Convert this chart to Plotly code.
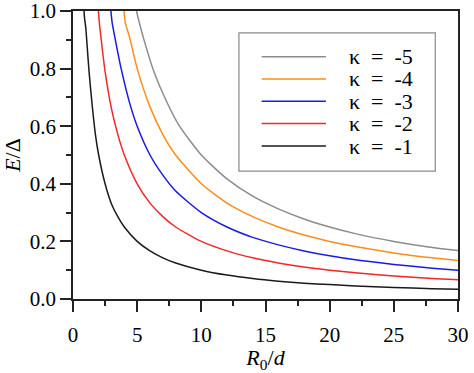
import plotly.graph_objects as go

# Values
kappa_labels = ["κ\u2002=\u2002-5", "κ\u2002=\u2002-4", "κ\u2002=\u2002-3", "κ\u2002=\u2002-2", "κ\u2002=\u2002-1"]
colors = ["#8c8c8c", "#ff8c1a", "#1a1ae6", "#f02828", "#1a1a1a"]

x_k5 = [4.95, 5.08, 5.5, 6.3, 7.3, 8.3, 10, 12, 14, 16, 18, 20, 22, 25, 28, 30]
y_k5 = [1.0, 0.975, 0.905, 0.79, 0.685, 0.60, 0.50, 0.417, 0.357, 0.313, 0.278, 0.25, 0.227, 0.20, 0.179, 0.168]

x_k4 = [3.98, 4.07, 4.4, 5, 6, 7, 8, 10, 12, 14, 16, 18, 20, 22, 25, 28, 30]
y_k4 = [1.0, 0.96, 0.91, 0.80, 0.667, 0.571, 0.50, 0.40, 0.333, 0.286, 0.25, 0.222, 0.20, 0.182, 0.16, 0.143, 0.134]

x_k3 = [2.95, 3.05, 3.3, 3.75, 4.5, 5, 6, 7, 8, 10, 12, 14, 16, 18, 20, 22, 25, 28, 30]
y_k3 = [1.0, 0.96, 0.90, 0.80, 0.667, 0.60, 0.50, 0.43, 0.375, 0.30, 0.25, 0.214, 0.188, 0.167, 0.15, 0.136, 0.12, 0.107, 0.10]

x_k2 = [1.98, 2.05, 2.2, 2.5, 3, 3.5, 4, 5, 6, 7, 8, 10, 12, 14, 16, 18, 20, 22, 25, 28, 30]
y_k2 = [1.0, 0.96, 0.90, 0.79, 0.66, 0.57, 0.50, 0.40, 0.333, 0.286, 0.25, 0.20, 0.167, 0.143, 0.125, 0.111, 0.10, 0.091, 0.08, 0.071, 0.067]

x_k1 = [0.86, 0.9, 1.0, 1.1, 1.25, 1.5, 1.75, 2, 2.5, 3, 3.5, 4, 5, 6, 7, 8, 10, 12, 14, 16, 18, 20, 22, 25, 28, 30]
y_k1 = [1.0, 0.975, 0.94, 0.88, 0.79, 0.67, 0.57, 0.50, 0.40, 0.33, 0.285, 0.25, 0.20, 0.167, 0.143, 0.125, 0.10, 0.083, 0.071, 0.062, 0.055, 0.05, 0.045, 0.04, 0.036, 0.034]

x_ticks = [0, 5, 10, 15, 20, 25, 30]
y_ticks = [0.0, 0.2, 0.4, 0.6, 0.8, 1.0]
y_tick_text = ["0.0", "0.2", "0.4", "0.6", "0.8", "1.0"]

series = [(x_k5, y_k5), (x_k4, y_k4), (x_k3, y_k3), (x_k2, y_k2), (x_k1, y_k1)]

FONT = "Liberation Serif, Times New Roman, serif"
fig = go.Figure()
for (xs, ys), name, c in zip(series, kappa_labels, colors):
    fig.add_trace(go.Scatter(x=xs, y=ys, mode="lines", name=name,
                             line=dict(color=c, width=1.5, shape="spline", smoothing=0.6),
                             showlegend=False))

# Manual legend (box, sample lines, labels) in paper coordinates
fig.add_shape(type="rect", xref="paper", yref="paper", x0=0.431, x1=0.941, y0=0.444, y1=0.924,
              line=dict(color="#8a8a8a", width=1.2), fillcolor="white", layer="above")
row_y = [0.841, 0.764, 0.687, 0.609, 0.531]
for ry, name, c in zip(row_y, kappa_labels, colors):
    fig.add_shape(type="line", xref="paper", yref="paper", x0=0.490, x1=0.657, y0=ry, y1=ry,
                  line=dict(color=c, width=1.5), layer="above")
    fig.add_annotation(xref="paper", yref="paper", x=0.712, y=ry, text=name, showarrow=False,
                       xanchor="left", yanchor="middle", font=dict(family=FONT, size=22, color="black"))

axis_common = dict(showline=True, linecolor="#222", linewidth=1.5, mirror=True,
                   ticks="outside", ticklen=11, tickwidth=1.5, tickcolor="#222",
                   showgrid=False, zeroline=False, automargin=False, ticklabeloverflow="allow",
                   tickfont=dict(family=FONT, size=21, color="black"))

fig.update_xaxes(range=[0, 30], tickvals=x_ticks, ticktext=[str(v) for v in x_ticks],
                 minor=dict(ticks="outside", ticklen=5, tickwidth=1.5, tickcolor="#222", dtick=2.5, tick0=0),
                 title=dict(text="<i>R</i><sub>0</sub>/<i>d</i>", font=dict(family=FONT, size=22, color="black"),
                            standoff=8),
                 ticklabelstandoff=5,
                 **axis_common)
fig.update_yaxes(range=[0, 1], tickvals=y_ticks, ticktext=y_tick_text,
                 minor=dict(ticks="outside", ticklen=5, tickwidth=1.5, tickcolor="#222", dtick=0.1, tick0=0),
                 title=dict(text="<i>E</i>/Δ", font=dict(family=FONT, size=22, color="black"), standoff=6),
                 **axis_common)

fig.update_layout(width=474, height=373, margin=dict(l=73, r=16, t=11, b=74),
                  plot_bgcolor="white", paper_bgcolor="white")
fig.write_html("out.html", config={"displayModeBar": False},
               post_script="document.body.style.margin='0';document.body.style.overflow='hidden';")
